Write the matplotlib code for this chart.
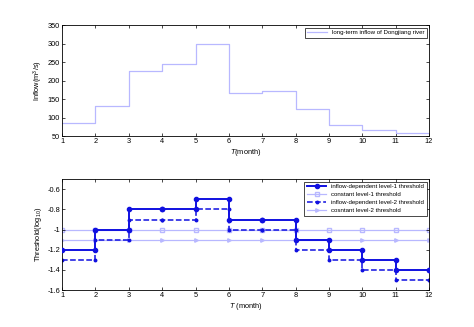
import matplotlib.pyplot as plt
import numpy as np

plt.rcParams["font.family"] = ["Liberation Sans", "DejaVu Sans"]
plt.rcParams["mathtext.fontset"] = "custom"
plt.rcParams["mathtext.it"] = "Liberation Sans:italic"
plt.rcParams["mathtext.rm"] = "Liberation Sans"

months = np.arange(1, 13)

# long-term inflow (m^3/s), stairs value for each month, last repeated
inflow = [85, 132, 227, 245, 300, 167, 172, 123, 81, 65, 57, 57]

# thresholds (log10)
level1_dep = [-1.2, -1.0, -0.8, -0.8, -0.7, -0.9, -0.9, -1.1, -1.2, -1.3, -1.4, -1.4]
level2_dep = [-1.3, -1.1, -0.9, -0.9, -0.8, -1.0, -1.0, -1.2, -1.3, -1.4, -1.5, -1.5]
level1_const = [-1.0] * 12
level2_const = [-1.1] * 12

BLUE = "#1010e0"
LIGHT = "#b8b8ff"
FS = 5.3
LFS = 4.4


def stair_xy(x, y):
    xs, ys = [x[0]], [y[0]]
    for i in range(1, len(x)):
        xs += [x[i], x[i]]
        ys += [y[i - 1], y[i]]
    return xs, ys


def style_axes(ax):
    ax.tick_params(direction="in", top=True, right=True, labelsize=FS,
                   length=2.5, width=0.5, pad=1.5)
    for s in ax.spines.values():
        s.set_linewidth(0.6)
    ax.set_xlim(1, 12)
    ax.set_xticks(months)


fig = plt.figure(figsize=(4.74, 3.27), dpi=100)

ax1 = fig.add_axes([0.131, 0.584, 0.774, 0.339])
ax1.step(months, inflow, where="post", color=LIGHT, lw=0.9,
         label="long-term inflow of Dongjiang river")
ax1.set_ylim(50, 350)
ax1.set_yticks(np.arange(50, 351, 50))
style_axes(ax1)
ax1.set_ylabel("Inflow(m$^3$/s)", fontsize=FS, labelpad=2)
ax1.set_xlabel("$T$(month)", fontsize=FS, labelpad=1)
leg = ax1.legend(loc="upper right", fontsize=LFS, fancybox=False,
                 edgecolor="black", framealpha=1, handlelength=3.2,
                 borderpad=0.4, borderaxespad=0.4)
leg.get_frame().set_linewidth(0.5)

ax2 = fig.add_axes([0.131, 0.113, 0.774, 0.339])
x1, y1 = stair_xy(months, level1_dep)
x2, y2 = stair_xy(months, level2_dep)
ax2.plot(months, level1_const, color=LIGHT, lw=0.9, marker="s", ms=2.5,
         mfc="none", mec=LIGHT, label="constant level-1 threshold", zorder=1)
ax2.plot(months, level2_const, color=LIGHT, lw=0.9, marker=">", ms=2.5,
         mfc=LIGHT, mec=LIGHT, label="cosntant level-2 threshold", zorder=1)
ax2.plot(x1, y1, color=BLUE, lw=1.4, marker="o", ms=3,
         label="inflow-dependent level-1 threshold", zorder=3)
ax2.plot(x2, y2, color=BLUE, lw=1.1, ls="--", marker="o", ms=1.8,
         label="inflow-dependent level-2 threshold", zorder=2)
ax2.set_ylim(-1.6, -0.5)
ax2.set_yticks([-1.6, -1.4, -1.2, -1.0, -0.8, -0.6])
ax2.set_yticklabels(["-1.6", "-1.4", "-1.2", "-1", "-0.8", "-0.6"])
style_axes(ax2)
ax2.set_ylabel("Threshold(log$_{10}$)", fontsize=FS, labelpad=2)
ax2.set_xlabel("$T$ (month)", fontsize=FS, labelpad=1)
h, l = ax2.get_legend_handles_labels()
order = [2, 0, 3, 1]
leg2 = ax2.legend([h[i] for i in order], [l[i] for i in order],
                  loc="upper right", fontsize=LFS, fancybox=False,
                  edgecolor="black", framealpha=1, handlelength=3.2,
                  borderpad=0.4, labelspacing=0.45, borderaxespad=0.4)
leg2.get_frame().set_linewidth(0.5)

fig.savefig("out.png", dpi=100)
